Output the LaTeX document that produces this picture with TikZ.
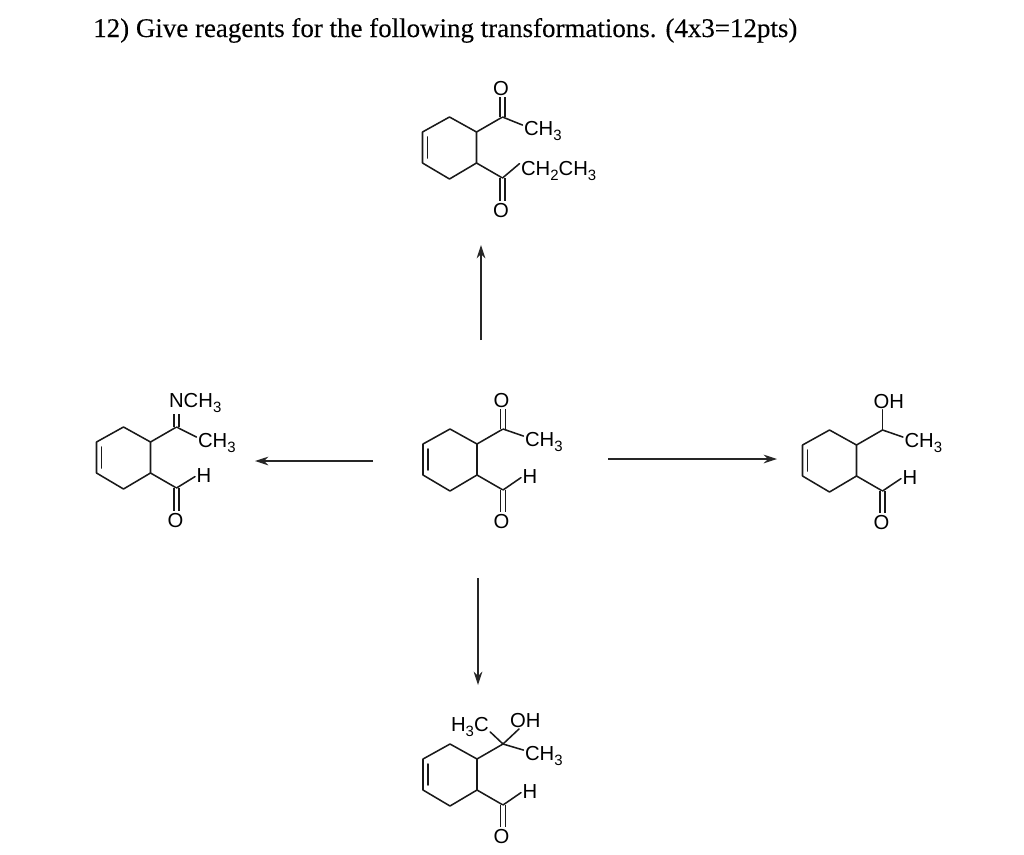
\documentclass[tikz,border=0pt]{standalone}
\usepackage{fontspec}
\setmainfont{Liberation Sans}
\newfontfamily\titlefont[FakeBold=0.12]{Liberation Serif}
\usetikzlibrary{arrows.meta}
\tikzset{
  x=0.75pt,y=-0.75pt,
  bond/.style={line width=1.15pt,draw=black!90,line cap=round},
  dbl/.style={line width=1.05pt,draw=black!90,double=white,double distance=2.9pt},
  atom/.style={font=\fontsize{15.2pt}{17pt}\selectfont,text=black,inner sep=1pt,anchor=base west},
  rxn/.style={line width=0.9pt,draw=black!85,-{Stealth[length=10pt,width=6.5pt]}},
  title/.style={font=\titlefont\fontsize{20.2pt}{22pt}\selectfont,text=black,inner sep=0pt,anchor=base west}
}
\newcommand{\cy}[3]{%
  \begin{scope}[shift={(#2,#3)},name prefix=#1-]
    \coordinate (r1) at (-27,-16); \coordinate (r2) at (0,-31);
    \coordinate (r3) at (27,-16);  \coordinate (r4) at (27,15);
    \coordinate (r5) at (0,31);    \coordinate (r6) at (-27,15);
    \coordinate (d1) at (-22,-11); \coordinate (d2) at (-22,10);
    \coordinate (up) at (53,-31);  \coordinate (low) at (53,30);
    \draw[bond,line join=round] (r1) -- (r2) -- (r3) -- (r4) -- (r5) -- (r6) -- cycle;
    \draw[bond] (d1) -- (d2);
    \draw[bond] (r3) -- (up);
    \draw[bond] (r4) -- (low);
  \end{scope}}
\newcommand{\atm}[4]{\node[atom] (#1) at (#2,#3+7) {#4};}
\newcommand{\sub}[1]{\raisebox{-0.25em}{\fontsize{11.2pt}{12pt}\selectfont #1}}
\begin{document}
\begin{tikzpicture}
\useasboundingbox (0,0) rectangle (1024,854);
\node[title] (ttl) at (93,37) {12) Give reagents for the following transformations. (4x3=12pts)};

% top
\cy{t}{449.5}{148}
\atm{tO}{491.5}{88}{O}
\atm{tOb}{491.5}{210}{O}
\atm{tMe}{522.5}{128}{CH\sub{3}}
\atm{tEt}{519.5}{168}{CH\sub{2}CH\sub{3}}
\draw[dbl] (t-up) -- (t-up |- tO.south);
\draw[dbl] (t-low) -- (t-low |- tOb.north);
\draw[bond] (t-up) -- (tMe.165);
\draw[bond] (t-low) -- (tEt.170);

% centre
\cy{c}{450}{460}
\atm{cO}{492}{400}{O}
\atm{cOb}{492}{521}{O}
\atm{cMe}{523.5}{439}{CH\sub{3}}
\atm{cH}{521}{476}{H}
\draw[dbl] (c-up) -- (c-up |- cO.south);
\draw[dbl] (c-low) -- (c-low |- cOb.north);
\draw[bond] (c-up) -- (cMe.165);
\draw[bond] (c-low) -- (cH.190);

% left
\cy{l}{123.5}{458}
\atm{lN}{167.5}{400}{NCH\sub{3}}
\atm{lOb}{166}{520}{O}
\atm{lMe}{196.5}{440}{CH\sub{3}}
\atm{lH}{195}{475}{H}
\draw[dbl] (l-up) -- (l-up |- lN.south);
\draw[dbl] (l-low) -- (l-low |- lOb.north);
\draw[bond] (l-up) -- (lMe.165);
\draw[bond] (l-low) -- (lH.190);

% right
\cy{r}{829.5}{461}
\atm{rOH}{872}{401}{OH}
\atm{rOb}{872}{522}{O}
\atm{rMe}{903}{440}{CH\sub{3}}
\atm{rH}{901}{477}{H}
\coordinate (rOHb) at (r-up |- rOH.south);
\draw[bond] (r-up) -- (rOHb);
\draw[dbl] (r-low) -- (r-low |- rOb.north);
\draw[bond] (r-up) -- (rMe.165);
\draw[bond] (r-low) -- (rH.190);

% bottom
\cy{b}{450}{775}
\atm{bMeL}{449.5}{724}{H\sub{3}C}
\atm{bOH}{508.5}{720}{OH}
\atm{bMe}{523.5}{753}{CH\sub{3}}
\atm{bOb}{492}{836}{O}
\atm{bH}{521}{791}{H}
\draw[bond] (b-up) -- (bMeL.-15);
\draw[bond] (b-up) -- (bOH.235);
\draw[bond] (b-up) -- (bMe.165);
\draw[dbl] (b-low) -- (b-low |- bOb.north);
\draw[bond] (b-low) -- (bH.190);

% arrows
\coordinate (aT0) at (481,340); \coordinate (aT1) at (481,245);
\coordinate (aL0) at (373,461); \coordinate (aL1) at (255,461);
\coordinate (aR0) at (608,459); \coordinate (aR1) at (777,459);
\coordinate (aB0) at (478,578); \coordinate (aB1) at (478,685);
\draw[rxn] (aT0) -- (aT1);
\draw[rxn] (aL0) -- (aL1);
\draw[rxn] (aR0) -- (aR1);
\draw[rxn] (aB0) -- (aB1);
\end{tikzpicture}
\end{document}
